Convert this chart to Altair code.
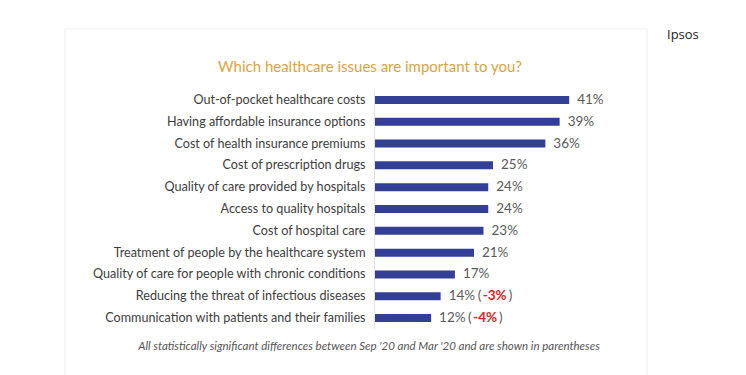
import altair as alt
import pandas as pd

issues = [
    "Out-of-pocket healthcare costs",
    "Having affordable insurance options",
    "Cost of health insurance premiums",
    "Cost of prescription drugs",
    "Quality of care provided by hospitals",
    "Access to quality hospitals",
    "Cost of hospital care",
    "Treatment of people by the healthcare system",
    "Quality of care for people with chronic conditions",
    "Reducing the threat of infectious diseases",
    "Communication with patients and their families",
]
values = [41, 39, 36, 25, 24, 24, 23, 21, 17, 14, 12]
changes = ["", "", "", "", "", "", "", "", "", "-3%", "-4%"]

df = pd.DataFrame({"issue": issues, "value": values, "change": changes})
df["label"] = df["value"].astype(str) + "%"
chg = df[df["change"] != ""].copy()
one = pd.DataFrame({"k": [0]})

FONT = "Lato"
BAR = "#333f95"

y_enc = alt.Y("issue:N", sort=issues, title=None,
              scale=alt.Scale(paddingInner=0, paddingOuter=0),
              axis=alt.Axis(labelFont=FONT, labelFontSize=12.6, labelColor="#3d3d3d",
                            labelPadding=9, ticks=False, domainColor="#e2e2e2",
                            domainWidth=1, labelLimit=400, zindex=1))
x_enc = alt.X("value:Q", scale=alt.Scale(domain=[0, 50]), axis=None, title=None)

card = alt.Chart(one).mark_rect(fill="white", stroke="#efefef", strokeWidth=1).encode(
    x=alt.value(-309), x2=alt.value(273), y=alt.value(-60), y2=alt.value(300))

bars = alt.Chart(df).mark_bar(color=BAR, size=8).encode(x=x_enc, y=y_enc)

ysub = alt.Y("issue:N", sort=issues)

vals = alt.Chart(df).mark_text(align="left", dx=8, font=FONT, fontSize=13.5,
                               color="#5a5a5a", baseline="middle").encode(
    x="value:Q", y=ysub, text="label:N")

open_p = alt.Chart(chg).mark_text(align="left", dx=37, font=FONT, fontSize=13.5,
                                  color="#5a5a5a", baseline="middle").encode(
    x="value:Q", y=ysub, text=alt.value("("))
red = alt.Chart(chg).mark_text(align="left", dx=42, font=FONT, fontSize=13.5, fontWeight="bold",
                               color="#e0201e", baseline="middle").encode(
    x="value:Q", y=ysub, text="change:N")
close_p = alt.Chart(chg).mark_text(align="left", dx=68, font=FONT, fontSize=13.5,
                                   color="#5a5a5a", baseline="middle").encode(
    x="value:Q", y=ysub, text=alt.value(")"))

title = alt.Chart(one).mark_text(align="center", baseline="middle", font=FONT, fontSize=15,
                                 color="#d8a443").encode(
    x=alt.value(-4), y=alt.value(-22), text=alt.value("Which healthcare issues are important to you?"))

foot = alt.Chart(one).mark_text(align="center", baseline="middle", font=FONT, fontSize=11.5,
                                fontStyle="italic", color="#555555").encode(
    x=alt.value(-5), y=alt.value(258),
    text=alt.value("All statistically significant differences between Sep '20 and Mar '20 and  are shown in parentheses"))

ipsos = alt.Chart(one).mark_text(align="left", baseline="middle", font="Open Sans", fontSize=13,
                                 color="#222222").encode(
    x=alt.value(293), y=alt.value(-54), text=alt.value("Ipsos"))

chart = alt.layer(card, bars, vals, open_p, red, close_p, title, foot, ipsos).properties(
    width=238, height=240,
    autosize=alt.AutoSizeParams(type="none"),
    padding={"left": 374, "top": 89, "right": 134, "bottom": 46},
    background="white",
).configure_view(stroke=None)

chart.save("out.html", embed_options={"renderer": "svg", "actions": False})
